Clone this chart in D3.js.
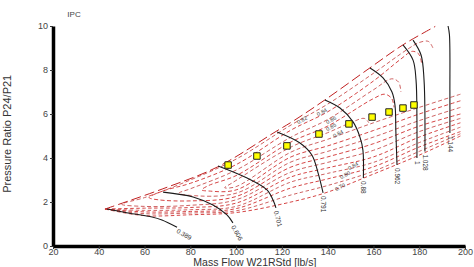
<!DOCTYPE html>
<html>
<head>
<meta charset="utf-8">
<script src="https://cdn.jsdelivr.net/npm/d3@7"></script>
<style>
  body { margin: 0; background: #fff; }
  svg { display: block; font-family: Arial, "Liberation Sans", sans-serif; }
</style>
</head>
<body>
<svg id="map" width="474" height="267"></svg>
<script>
// axis ticks
const xTicks = [20, 40, 60, 80, 100, 120, 140, 160, 180, 200];
const yTicks = [0, 2, 4, 6, 8, 10];

// surge line [mass flow, pressure ratio]
const surgeLine = [[42.7, 1.68], [68, 2.6], [92, 3.6], [117, 5.18], [125.7, 5.73], [138.8, 6.64], [158.5, 8.1], [173, 9.15], [187, 9.98]];

// corrected speed lines
const speedNames = ["0.389", "0.606", "0.701", "0.791", "0.88", "0.962", "1", "1.028", "1.144"];
const speed0389 = [[43.6, 1.68], [52.8, 1.5], [63.3, 1.32], [67.6, 1.18], [74.2, 0.85]];
const speed0606 = [[68.1, 2.45], [81.2, 2.23], [89.9, 1.86], [96.0, 1.41], [98.6, 1.05]];
const speed0701 = [[92.1, 3.64], [104.8, 3.09], [113.5, 2.55], [116.5, 2.0], [117.4, 1.73]];
const speed0791 = [[117.9, 5.18], [127.9, 4.68], [133.1, 4.14], [135.8, 3.32], [138, 2.41]];
const speed088 = [[138.8, 6.64], [145.4, 6.27], [151.1, 5.64], [154.1, 4.95], [155.4, 4.36], [155.6, 3.09]];
const speed0962 = [[158.5, 8.09], [164.2, 7.64], [168.1, 7.0], [169.4, 6.41], [169.8, 5.18], [170.3, 3.68]];
const speed1 = [[172.9, 9.14], [177.3, 8.45], [178.6, 7.55], [179.0, 5.73], [179.0, 4.0]];
const speed1028 = [[177.3, 9.36], [180.8, 8.68], [182.1, 7.55], [182.5, 4.3]];
const speed1144 = [[192.6, 10.0], [193.2, 9.6], [193.4, 7.0], [193.4, 5.14]];
const speedLines = [speed0389, speed0606, speed0701, speed0791, speed088, speed0962, speed1, speed1028, speed1144];

// efficiency contours
const eff060 = [[198, 5.0], [180, 4.13], [160, 3.27], [140, 2.45], [124, 2.0], [100, 1.52], [80, 1.42], [60, 1.38], [42.7, 1.68]];
const eff070 = [[198, 5.1], [180, 4.3], [160, 3.4], [140, 2.75], [124, 2.32], [100, 1.6], [80, 1.5], [60, 1.47], [42.7, 1.68]];
const eff075 = [[198, 5.2], [180, 4.5], [160, 3.6], [140, 3.05], [124, 2.64], [100, 1.7], [80, 1.57], [60, 1.55], [42.7, 1.68]];
const eff078 = [[198, 5.4], [180, 4.7], [160, 3.8], [140, 3.3], [124, 2.91], [100, 1.8], [80, 1.65], [60, 1.62], [42.7, 1.68]];
const eff080 = [[198, 5.6], [180, 4.95], [160, 4.05], [140, 3.55], [124, 3.14], [100, 1.95], [80, 1.75], [60, 1.72], [42.7, 1.68]];
const eff082 = [[198, 5.8], [180, 5.2], [160, 4.35], [140, 3.8], [124, 3.36], [100, 2.1], [80, 1.85], [60, 1.8], [50, 1.9],
  [60, 2.2], [80, 3.0], [100, 3.95], [124, 5.5], [140, 6.45], [160, 7.85], [175, 8.95], [180, 9.25], [184, 9.3], [186, 9.0]];
const eff084 = [[198, 6.0], [180, 5.45], [160, 4.65], [140, 4.05], [124, 3.59], [100, 2.25], [80, 2.05], [66, 2.1], [62, 2.2],
  [68, 2.5], [80, 2.85], [100, 3.7], [124, 5.27], [140, 6.1], [160, 7.5], [172, 8.5], [177, 8.85], [180, 8.7], [181, 8.3]];
const eff085 = [[198, 6.3], [180, 5.7], [160, 4.95], [140, 4.3], [124, 3.82], [100, 2.4], [80, 2.3], [75, 2.4],
  [80, 2.6], [100, 3.45], [124, 4.95], [140, 5.75], [160, 7.1], [168, 7.6], [171, 7.45], [172, 7.0]];
const eff086 = [[198, 6.6], [180, 6.0], [160, 5.25], [140, 4.55], [124, 4.05], [100, 2.55], [88, 2.5], [85, 2.55],
  [88, 2.75], [100, 3.2], [124, 4.73], [140, 5.45], [160, 6.7], [165, 6.9], [168, 6.7], [169, 6.3]];
const eff0865 = [[198, 6.9], [180, 6.3], [160, 5.6], [140, 4.85], [124, 4.27], [100, 2.7], [95, 2.65],
  [98, 2.85], [124, 4.5], [140, 5.15], [150, 5.6], [156, 5.8], [158, 5.6]];
const effLines = [eff060, eff070, eff075, eff078, eff080, eff082, eff084, eff085, eff086, eff0865];

// efficiency labels [flow, PR, text]
const effLabels = [[145.4, 2.68, "0.70"], [147.6, 3.23, "0.80"], [151.1, 3.64, "0.84"],
  [128.8, 5.73, "0.82"], [137.5, 6.09, "0.84"], [141.5, 5.73, "0.86"], [141.5, 5.41, "0.85"], [144.5, 5.1, "0.84"]];

// operating points
const opFlow = [96.5, 109.1, 122.2, 136.2, 149.3, 159.4, 166.8, 172.9, 177.7];
const opPR = [3.68, 4.09, 4.55, 5.09, 5.55, 5.86, 6.09, 6.27, 6.41];

const speedLabelAngle = [30, 60, 75, 90, 90, 90, 90, 90, 90];

const svg = d3.select("#map");
const margin = { top: 26, right: 9, bottom: 21, left: 53 };
const width = 474 - margin.left - margin.right;
const height = 267 - margin.top - margin.bottom;

const x = d3.scaleLinear().domain([20, 200]).range([0, width]);
const y = d3.scaleLinear().domain([0, 10]).range([height, 0]);

const chart = svg.append("g").attr("transform", `translate(${margin.left},${margin.top})`);

const line = d3.line().x(d => x(d[0])).y(d => y(d[1])).curve(d3.curveCatmullRom.alpha(0.5));

// efficiency contours
chart.selectAll(".eff")
  .data(effLines)
  .enter()
  .append("path")
  .attr("class", "eff")
  .attr("d", line)
  .attr("fill", "none")
  .attr("stroke", (d, i) => i % 2 ? "#c85050" : "#d03030")
  .attr("stroke-width", 0.9)
  .attr("stroke-dasharray", (d, i) => i >= 5 ? "4,2.5" : "3.5,2.5");

// surge line
chart.append("path")
  .attr("d", line(surgeLine))
  .attr("fill", "none")
  .attr("stroke", "#c02020")
  .attr("stroke-width", 1)
  .attr("stroke-dasharray", "10,4");

// speed lines
chart.selectAll(".speed")
  .data(speedLines)
  .enter()
  .append("path")
  .attr("class", "speed")
  .attr("d", line)
  .attr("fill", "none")
  .attr("stroke", "#1a1a1a")
  .attr("stroke-width", 1.1);

chart.selectAll(".speed-label")
  .data(speedLines)
  .enter()
  .append("text")
  .attr("class", "speed-label")
  .attr("transform", (d, i) => {
    const p = d[d.length - 1];
    return `translate(${x(p[0])},${y(p[1]) + 3}) rotate(${speedLabelAngle[i]})`;
  })
  .attr("dy", "0.35em")
  .attr("font-size", 6.5)
  .attr("fill", "#333")
  .text((d, i) => speedNames[i]);

chart.selectAll(".eff-label")
  .data(effLabels)
  .enter()
  .append("text")
  .attr("class", "eff-label")
  .attr("transform", d => `translate(${x(d[0])},${y(d[1])}) rotate(-28)`)
  .attr("text-anchor", "middle")
  .attr("dy", "0.35em")
  .attr("font-size", 5.5)
  .attr("fill", "#444")
  .text(d => d[2]);

// operating points
chart.selectAll(".op")
  .data(opFlow)
  .enter()
  .append("path")
  .attr("class", "op")
  .attr("d", d3.symbol(d3.symbolSquare, 42))
  .attr("transform", (d, i) => `translate(${x(d)},${y(opPR[i])})`)
  .attr("fill", "#ffff00")
  .attr("stroke", "#222")
  .attr("stroke-width", 1);

// axes
const xAxis = chart.append("g")
  .attr("transform", `translate(0,${height})`)
  .call(d3.axisBottom(x).tickValues(xTicks).tickSize(3).tickSizeOuter(0).tickPadding(0));
const yAxis = chart.append("g")
  .call(d3.axisLeft(y).tickValues(yTicks).tickSize(3).tickSizeOuter(0).tickPadding(2));

[xAxis, yAxis].forEach(a => {
  a.select(".domain").attr("stroke", "#000").attr("stroke-width", 3.5);
  a.selectAll(".tick line").attr("stroke", "#333");
  a.selectAll(".tick text").attr("font-size", 9).attr("fill", "#444").attr("font-family", "Arial, 'Liberation Sans', sans-serif");
});

// titles
svg.append("text")
  .attr("x", 74).attr("y", 17)
  .attr("text-anchor", "middle")
  .attr("font-size", 8)
  .attr("fill", "#444")
  .text("IPC");

svg.append("text")
  .attr("x", margin.left + x(108.2)).attr("y", 266)
  .attr("text-anchor", "middle")
  .attr("font-size", 10.5)
  .attr("fill", "#333")
  .text("Mass Flow W21RStd [lb/s]");

svg.append("text")
  .attr("transform", `translate(11,${margin.top + y(5.1)}) rotate(-90)`)
  .attr("text-anchor", "middle")
  .attr("font-size", 11)
  .attr("fill", "#333")
  .text("Pressure Ratio P24/P21");
</script>
</body>
</html>
